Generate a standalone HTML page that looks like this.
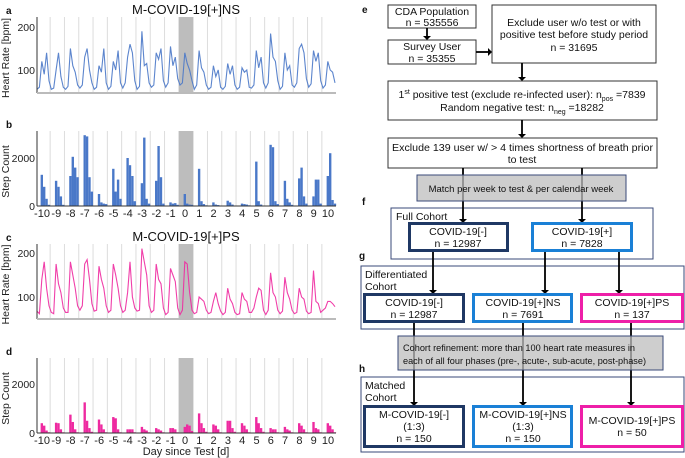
<!DOCTYPE html>
<html><head><meta charset="utf-8">
<style>
html,body{margin:0;padding:0;background:#fff;}
svg{display:block;font-family:"Liberation Sans",Arial,sans-serif;}
</style></head>
<body>
<svg id="fig" width="685" height="458" viewBox="0 0 685 458" xmlns="http://www.w3.org/2000/svg">
<g id="charts"></g>
<g id="flow" font-size="10.5" fill="#111">
  <text x="362" y="13" font-weight="bold" font-size="10">e</text>
  <rect x="388" y="5" width="88" height="23" fill="#fff" stroke="#333" stroke-width="1"/>
  <text x="432" y="15" text-anchor="middle">CDA Population</text>
  <text x="432" y="26" text-anchor="middle">n = 535556</text>
  <rect x="388" y="40" width="88" height="24" fill="#fff" stroke="#333"/>
  <text x="432" y="50" text-anchor="middle">Survey User</text>
  <text x="432" y="62" text-anchor="middle">n = 35355</text>
  <rect x="492" y="5" width="164" height="58" fill="#fff" stroke="#333"/>
  <text x="574" y="26" text-anchor="middle">Exclude user w/o test or with</text>
  <text x="574" y="38" text-anchor="middle">positive test before study period</text>
  <text x="574" y="51" text-anchor="middle">n = 31695</text>
  <rect x="388" y="81" width="269" height="39" fill="#fff" stroke="#333"/>
  <text x="522" y="98" text-anchor="middle">1<tspan font-size="7" dy="-4">st</tspan><tspan dy="4"> positive test (exclude re-infected user): n</tspan><tspan font-size="7" dy="3">pos</tspan><tspan dy="-3"> =7839</tspan></text>
  <text x="522" y="111" text-anchor="middle">Random negative test: n<tspan font-size="7" dy="3">neg</tspan><tspan dy="-3"> =18282</tspan></text>
  <rect x="388" y="138" width="269" height="30" fill="#fff" stroke="#333"/>
  <text x="392" y="151" textLength="261" lengthAdjust="spacingAndGlyphs">Exclude 139 user w/ &gt; 4 times shortness of breath prior</text>
  <text x="522" y="163" text-anchor="middle">to test</text>

  <text x="362" y="205" font-weight="bold" font-size="10">f</text>
  <rect x="391" y="208" width="262" height="51" fill="none" stroke="#3a4a78"/>
  <text x="396" y="220">Full Cohort</text>
  <text x="359" y="259" font-weight="bold" font-size="10">g</text>
  <rect x="361" y="266" width="323" height="63" fill="none" stroke="#3a4a78"/>
  <text x="365" y="278">Differentiated</text>
  <text x="365" y="290">Cohort</text>
  <text x="359" y="372" font-weight="bold" font-size="10">h</text>
  <rect x="361" y="377" width="323" height="75" fill="none" stroke="#3a4a78"/>
  <text x="365" y="389">Matched</text>
  <text x="365" y="401">Cohort</text>

  <g stroke="#000" stroke-width="1.8">
    <line x1="427" y1="28" x2="427" y2="36"/>
    <line x1="476" y1="52" x2="488" y2="52"/>
    <line x1="522" y1="63" x2="522" y2="77"/>
    <line x1="522" y1="120" x2="522" y2="134"/>
    <line x1="463" y1="168" x2="463" y2="219"/>
    <line x1="582" y1="168" x2="582" y2="219"/>
    <line x1="433" y1="251" x2="433" y2="290"/>
    <line x1="545" y1="251" x2="545" y2="290"/>
    <line x1="619" y1="251" x2="619" y2="290"/>
    <line x1="414" y1="322" x2="414" y2="402"/>
    <line x1="523" y1="322" x2="523" y2="402"/>
    <line x1="631" y1="322" x2="631" y2="402"/>
  </g>
  <g fill="#000">
    <polygon points="423,36 431,36 427,40"/>
    <polygon points="488,48 488,56 492,52"/>
    <polygon points="518,77 526,77 522,81"/>
    <polygon points="518,134 526,134 522,138"/>
    <polygon points="459,219 467,219 463,223"/>
    <polygon points="578,219 586,219 582,223"/>
    <polygon points="429,290 437,290 433,294"/>
    <polygon points="541,290 549,290 545,294"/>
    <polygon points="615,290 623,290 619,294"/>
    <polygon points="410,402 418,402 414,406"/>
    <polygon points="519,402 527,402 523,406"/>
    <polygon points="627,402 635,402 631,406"/>
  </g>
  <rect x="417" y="175" width="209" height="26" fill="rgba(190,190,190,0.75)" stroke="#3a4a78"/>
  <text x="521" y="192" text-anchor="middle" font-size="9.5">Match per week to test &amp; per calendar week</text>
  <rect x="398" y="336" width="265" height="34" fill="rgba(190,190,190,0.75)" stroke="#3a4a78"/>
  <text x="403" y="351" font-size="9.5" textLength="232" lengthAdjust="spacingAndGlyphs">Cohort refinement: more than 100 heart rate measures in</text>
  <text x="403" y="364" font-size="9.5" textLength="243" lengthAdjust="spacingAndGlyphs">each of all four phases (pre-, acute-, sub-acute, post-phase)</text>

  <rect x="409.5" y="223.5" width="98" height="27" fill="#fff" stroke="#1f3864" stroke-width="3"/>
  <text x="458" y="235" text-anchor="middle">COVID-19[-]</text>
  <text x="458" y="247" text-anchor="middle">n = 12987</text>
  <rect x="532.5" y="223.5" width="99" height="27" fill="#fff" stroke="#1a80d6" stroke-width="3"/>
  <text x="582" y="235" text-anchor="middle">COVID-19[+]</text>
  <text x="582" y="247" text-anchor="middle">n = 7828</text>

  <rect x="364.5" y="294.5" width="99" height="27" fill="#fff" stroke="#1f3864" stroke-width="3"/>
  <text x="414" y="306" text-anchor="middle">COVID-19[-]</text>
  <text x="414" y="318" text-anchor="middle">n = 12987</text>
  <rect x="473.5" y="294.5" width="98" height="27" fill="#fff" stroke="#1a80d6" stroke-width="3"/>
  <text x="523" y="306" text-anchor="middle">COVID-19[+]NS</text>
  <text x="523" y="318" text-anchor="middle">n = 7691</text>
  <rect x="581.5" y="294.5" width="101" height="27" fill="#fff" stroke="#ee1fa8" stroke-width="3"/>
  <text x="632" y="306" text-anchor="middle">COVID-19[+]PS</text>
  <text x="632" y="318" text-anchor="middle">n = 137</text>

  <rect x="364.5" y="406.5" width="99" height="40" fill="#fff" stroke="#1f3864" stroke-width="3"/>
  <text x="414" y="418" text-anchor="middle">M-COVID-19[-]</text>
  <text x="414" y="430" text-anchor="middle">(1:3)</text>
  <text x="414" y="442" text-anchor="middle">n = 150</text>
  <rect x="473.5" y="406.5" width="98" height="40" fill="#fff" stroke="#1a80d6" stroke-width="3"/>
  <text x="523" y="418" text-anchor="middle">M-COVID-19[+]NS</text>
  <text x="523" y="430" text-anchor="middle">(1:3)</text>
  <text x="523" y="442" text-anchor="middle">n = 150</text>
  <rect x="581.5" y="406.5" width="101" height="40" fill="#fff" stroke="#ee1fa8" stroke-width="3"/>
  <text x="632" y="424" text-anchor="middle">M-COVID-19[+]PS</text>
  <text x="632" y="436" text-anchor="middle">n = 50</text>
</g>
</svg>
<script>
const days = [-10,-9,-8,-7,-6,-5,-4,-3,-2,-1,0,1,2,3,4,5,6,7,8,9,10];
const hrTicks = [100,200];
const stepTicks = [0,2000];
// 6 bins per day (4h each)
const hrNS = [
55,60,120,90,140,75, 55,58,100,140,85,60, 55,62,150,110,95,65, 58,65,130,150,100,70,
55,60,110,95,150,70, 55,62,120,100,145,70, 58,70,130,160,140,75, 55,62,190,110,115,70,
60,65,140,125,150,75, 60,70,155,110,130,80, 65,70,140,115,100,75, 55,65,145,105,95,65,
55,60,110,85,100,60, 55,62,115,90,110,65, 55,60,105,95,100,60, 58,65,145,105,130,70,
58,70,185,130,120,75, 55,62,140,100,110,65, 60,70,150,160,140,80, 60,68,145,120,140,75,
58,65,120,100,95,70];
const stepsNS = [
0,0,1300,800,300,50, 0,0,1050,800,400,50, 0,0,1250,2050,1600,1200, 0,0,2950,2900,1200,600,
0,0,500,150,100,80, 0,0,1550,600,1100,300, 0,0,2000,1700,1250,200, 0,0,950,2850,300,100,
0,0,1050,2500,1200,100, 0,0,150,100,120,50, 0,0,500,100,60,50, 0,0,1550,200,80,30,
0,0,150,60,40,20, 0,0,220,150,60,20, 0,0,100,80,60,30, 0,0,1850,200,60,20,
0,0,2550,2450,200,80, 0,0,1050,300,150,50, 0,0,1150,1600,400,100, 0,0,400,1100,1100,100,
0,0,1250,2200,250,100];
const hrPS = [
68,62,140,180,120,80, 65,62,175,130,110,75, 65,65,180,150,120,80, 70,80,175,185,140,85,
68,70,170,140,120,80, 65,70,175,150,120,80, 65,70,110,180,100,75, 68,70,210,180,150,80,
65,70,175,140,130,75, 60,65,165,150,135,75, 60,70,180,175,110,70, 62,65,100,95,90,70,
62,65,90,110,85,68, 60,65,120,95,85,65, 60,62,110,95,90,65, 65,75,100,120,115,70,
60,70,155,110,100,70, 62,68,145,110,95,70, 62,65,120,100,95,68, 62,65,160,90,85,65,
70,75,90,90,85,78];
const stepsPS = [
0,0,400,300,100,30, 0,0,420,400,150,30, 0,0,750,450,150,30, 0,0,1250,500,200,50,
0,0,550,350,150,30, 0,0,650,600,150,30, 0,0,150,150,150,30, 0,0,250,150,100,30,
0,0,200,150,100,30, 0,0,200,200,150,30, 0,0,250,350,300,80, 0,0,800,400,200,50,
0,0,350,300,150,30, 0,0,500,500,200,50, 0,0,400,300,150,30, 0,0,650,400,200,50,
0,0,200,150,150,30, 0,0,250,150,100,30, 0,0,400,300,150,30, 0,0,450,200,150,30,
0,0,400,300,150,30];

const NS='http://www.w3.org/2000/svg';
const root=document.getElementById('charts');
function mk(tag,attrs,parent){const e=document.createElementNS(NS,tag);for(const k in attrs)e.setAttribute(k,attrs[k]);(parent||root).appendChild(e);return e;}
const X0=37, X1=336;
function xDay(d){return 186+d*14.3;}
function xBin(i){return xDay(-10.5+i/6+1/12);}

function panel(cfg){
  const g=mk('g',{});
  
  
  const y=v=>cfg.y0+(v-cfg.v0)*(cfg.y1-cfg.y0)/(cfg.v1-cfg.v0);
  for(let d=-10;d<10;d++){
    const gl=mk('line',{x1:xDay(d+0.5),x2:xDay(d+0.5),y1:cfg.top,y2:cfg.bot,stroke:'#dcdcdc','stroke-width':1},g);
    
    
  }
  const band=mk('rect',{x:xDay(-0.5),y:cfg.top,width:xDay(0.5)-xDay(-0.5),height:cfg.bot-cfg.top,fill:'#bdbdbd'},g);
  
  
  if(cfg.type==='line'){
    const pts=cfg.data.map((v,i)=>xBin(i).toFixed(1)+','+y(v).toFixed(1)).join(' ');
    const pl=mk('polyline',{points:pts,fill:'none',stroke:cfg.color,'stroke-width':1.1,opacity:0.9},g);
    
    
  } else {
    const w=14.3/6;
    cfg.data.forEach((v,i)=>{
      const yy=y(v);
      const b=mk('rect',{x:xBin(i)-w/2,y:yy,width:w,height:Math.max(0,y(0)-yy),fill:cfg.color},g);
      
      
    });
  }
  const ax=mk('line',{x1:X0,x2:X0,y1:cfg.top,y2:cfg.bot,stroke:'#333','stroke-width':1},g);
  
  
  const bx=mk('line',{x1:X0,x2:X1,y1:cfg.bot,y2:cfg.bot,stroke:cfg.type==='line'?'#bbb':'#333','stroke-width':cfg.type==='line'?2:1},g);
  
  
  cfg.ticks.forEach(t=>{
    const tl=mk('text',{x:X0-2,y:y(t)+4,'text-anchor':'end','font-size':10.5,fill:'#222'},g);
    tl.textContent=t;
    
    
  });
  const yt=mk('text',{transform:`translate(9,${(cfg.top+cfg.bot)/2+3}) rotate(-90)`,'text-anchor':'middle','font-size':10.5,fill:'#222'},g);
  yt.textContent=cfg.ylabel;
  
  
  const pl=mk('text',{x:6,y:cfg.top-3,'font-size':10,'font-weight':'bold',fill:'#111'},g);
  pl.textContent=cfg.letter;
  
  
  if(cfg.title){
    const tt=mk('text',{x:186,y:cfg.top-3,'text-anchor':'middle','font-size':13,fill:'#111'},g);
    tt.textContent=cfg.title;
    
    
  }
  if(cfg.xticks){
    days.forEach(d=>{
      const t=mk('text',{x:xDay(d)-1,y:cfg.bot+11,'text-anchor':'middle','font-size':11,fill:'#222'},g);
      t.textContent=d;
      
      
    });
  }
}
panel({name:'heart-rate-ns-chart',type:'line',data:hrNS,color:'#4a78c8',top:17,bot:93,v0:100,y0:70,v1:200,y1:27,ticks:hrTicks,ylabel:'Heart Rate [bpm]',letter:'a',title:'M-COVID-19[+]NS'});
panel({name:'steps-ns-chart',type:'bar',data:stepsNS,color:'#4a78c8',top:131,bot:206,v0:0,y0:206,v1:2000,y1:158,ticks:stepTicks,ylabel:'Step Count',letter:'b',xticks:true});
panel({name:'heart-rate-ps-chart',type:'line',data:hrPS,color:'#ee2aa0',top:244,bot:319,v0:100,y0:297,v1:200,y1:253,ticks:hrTicks,ylabel:'Heart Rate [bpm]',letter:'c',title:'M-COVID-19[+]PS'});
panel({name:'steps-ps-chart',type:'bar',data:stepsPS,color:'#ee2aa0',top:358,bot:433,v0:0,y0:433,v1:2000,y1:384,ticks:stepTicks,ylabel:'Step Count',letter:'d',xticks:true});
const xl=mk('text',{x:186,y:455,'text-anchor':'middle','font-size':11,fill:'#222'});
xl.textContent='Day since Test [d]';


</script>
</body></html>
